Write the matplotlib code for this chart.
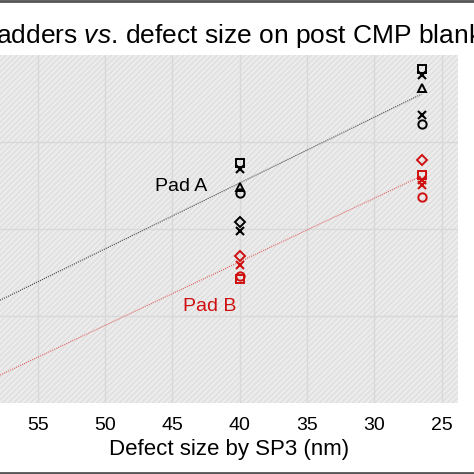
import numpy as np
import matplotlib.pyplot as plt

plt.rcParams['font.family'] = ['Liberation Sans', 'DejaVu Sans']
plt.rcParams['mathtext.fontset'] = 'custom'
plt.rcParams['mathtext.it'] = 'Liberation Sans:italic'
plt.rcParams['mathtext.rm'] = 'Liberation Sans'

# defect sizes (nm)
sizes = [40, 26.5]

# Pad A (black) adders, arbitrary units
padA = {
    's': [2.76, 3.84],
    'x': [2.69, 3.77],
    '^': [2.48, 3.62],
    'o': [2.41, 3.21],
    'D': [2.08, None],
}
padA_x2 = [1.98, 3.31]

# Pad B (red)
padB = {
    'D': [1.69, 2.79],
    's': [1.43, 2.62],
    'x': [1.59, 2.56],
    'o': [1.46, 2.37],
}
padB_x2 = [None, 2.51]

trend_x = [57.8, 26.5]
trendA = [1.18, 3.55]
trendB = [0.32, 2.61]

fig = plt.figure(figsize=(4.74, 4.74), dpi=100)
ax = fig.add_axes([0.0, 0.15, 0.966, 0.734])
ax.set_facecolor('#ececec')
ax.add_patch(plt.Rectangle((0, 0), 1, 1, transform=ax.transAxes, fill=False,
                           hatch='//////', edgecolor='#dedede', lw=0, zorder=0))

def draw(d, extra, color):
    for m, vals in d.items():
        for xv, yv in zip(sizes, vals):
            if yv is None:
                continue
            ms = 5 if m == 'D' else 6
            if m == 'x':
                ax.plot(xv, yv, marker='x', color=color, ms=6, mew=1.5, ls='none', zorder=3)
            else:
                ax.plot(xv, yv, marker=m, mfc='none', mec=color, ms=ms, mew=1.4, ls='none', zorder=3)
    for xv, yv in zip(sizes, extra):
        if yv is not None:
            ax.plot(xv, yv, marker='x', color=color, ms=6, mew=1.5, ls='none', zorder=3)

draw(padA, padA_x2, 'black')
draw(padB, padB_x2, '#d01010')
ax.plot(trend_x, trendA, ls=(0, (1, 1)), color='#444444', lw=0.8, zorder=2)
ax.plot(trend_x, trendB, ls=(0, (1, 1)), color='#e06060', lw=0.8, zorder=2)

ax.text(46.3, 2.49, 'Pad A', fontsize=14, color='black', va='center')
ax.text(44.2, 1.11, 'Pad B', fontsize=14, color='#d01010', va='center')

ax.set_xlim(57.8, 23.8)
ax.set_ylim(0, 4)
ax.set_xticks([55, 50, 45, 40, 35, 30, 25])
ax.set_yticks([1, 2, 3])
ax.set_yticklabels([])
ax.tick_params(length=0, labelsize=14, pad=10)
ax.grid(True, color='#d8d8d8', lw=1)
for s in ax.spines.values():
    s.set_visible(False)
ax.set_xlabel('Defect size by SP3 (nm)', fontsize=16, labelpad=4)

fig.text(-0.008, 0.925, r'adders $\it{vs}$. defect size on post CMP blanket wafers',
         fontsize=19, ha='left', va='center')
fig.add_artist(plt.Line2D([0, 1], [0.998, 0.998], color='#555555', lw=2))
fig.add_artist(plt.Line2D([0, 1], [0.002, 0.002], color='#555555', lw=2))

fig.savefig('out.png', dpi=100)
